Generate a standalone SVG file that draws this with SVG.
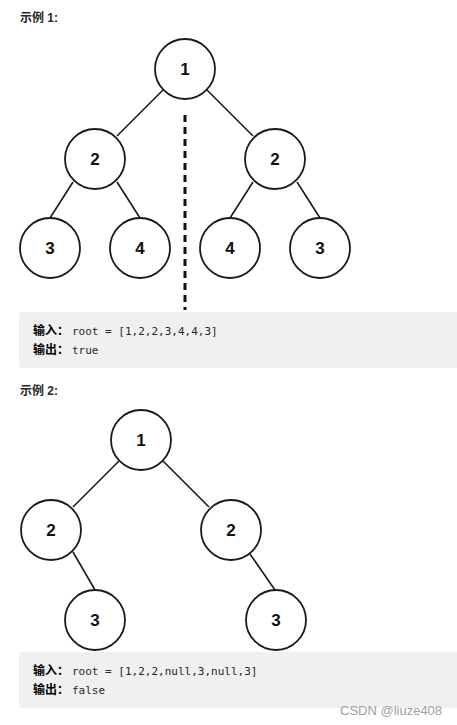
<svg xmlns="http://www.w3.org/2000/svg" width="457" height="725" viewBox="0 0 457 725">
<style>
.bg{fill:#ffffff}
.title{font-family:"Liberation Sans","Noto Sans CJK SC",sans-serif;font-size:12px;font-weight:bold;fill:#262626}
.box{fill:#f0f0f0}
.lbl{font-family:"Liberation Sans","Noto Sans CJK SC",sans-serif;font-size:12px;font-weight:bold;fill:#000}
.code{font-family:"DejaVu Sans Mono","Liberation Mono",monospace;font-size:11px;fill:#262626}
.node circle{fill:#fff;stroke:#1a1a1a;stroke-width:1.8}
.node text{font-family:"Liberation Sans",Arial,sans-serif;font-size:17px;font-weight:bold;fill:#111;text-anchor:middle}
.edge{stroke:#1a1a1a;stroke-width:1.6;fill:none}
.dash{stroke:#111;stroke-width:3;stroke-dasharray:7 5;fill:none}
.wm{font-family:"Liberation Sans",Arial,sans-serif;font-size:13px;fill:#a0a0a0}
</style>
<rect class="bg" x="0" y="0" width="457" height="725"/>

<text class="title" x="20" y="22">示例 1:</text>

<g id="connectors1">
<line class="edge" x1="163" y1="90" x2="117" y2="136"/>
<line class="edge" x1="207" y1="90" x2="253" y2="136"/>
<line class="edge" x1="73" y1="182" x2="50" y2="218"/>
<line class="edge" x1="117" y1="182" x2="140" y2="218"/>
<line class="edge" x1="253" y1="182" x2="230" y2="218"/>
<line class="edge" x1="297" y1="182" x2="320" y2="218"/>
<line class="dash" x1="185" y1="115" x2="185" y2="310"/>
</g>

<g id="e1-n1" class="node"><circle cx="185" cy="69" r="30"/><text x="185" y="75">1</text></g>
<g id="e1-n2a" class="node"><circle cx="95" cy="159" r="30"/><text x="95" y="165">2</text></g>
<g id="e1-n2b" class="node"><circle cx="275" cy="159" r="30"/><text x="275" y="165">2</text></g>
<g id="e1-n3a" class="node"><circle cx="50" cy="248" r="30"/><text x="50" y="254">3</text></g>
<g id="e1-n4a" class="node"><circle cx="140" cy="248" r="30"/><text x="140" y="254">4</text></g>
<g id="e1-n4b" class="node"><circle cx="230" cy="248" r="30"/><text x="230" y="254">4</text></g>
<g id="e1-n3b" class="node"><circle cx="320" cy="248" r="30"/><text x="320" y="254">3</text></g>

<rect class="box" x="19" y="312" width="445" height="56" rx="3"/>
<text class="lbl" x="33" y="335">输入：</text><text class="code" x="72" y="335">root = [1,2,2,3,4,4,3]</text>
<text class="lbl" x="33" y="354">输出：</text><text class="code" x="72" y="354">true</text>

<text class="title" x="20" y="395">示例 2:</text>

<g id="connectors2">
<line class="edge" x1="119" y1="461" x2="73" y2="507"/>
<line class="edge" x1="163" y1="461" x2="209" y2="507"/>
<line class="edge" x1="73" y1="552" x2="95" y2="590"/>
<line class="edge" x1="250" y1="554" x2="275" y2="590"/>
</g>

<g id="e2-n1" class="node"><circle cx="141" cy="440" r="30"/><text x="141" y="446">1</text></g>
<g id="e2-n2a" class="node"><circle cx="51" cy="530" r="30"/><text x="51" y="536">2</text></g>
<g id="e2-n2b" class="node"><circle cx="231" cy="530" r="30"/><text x="231" y="536">2</text></g>
<g id="e2-n3a" class="node"><circle cx="95" cy="620" r="30"/><text x="95" y="626">3</text></g>
<g id="e2-n3b" class="node"><circle cx="276" cy="620" r="30"/><text x="276" y="626">3</text></g>

<rect class="box" x="19" y="652" width="445" height="56" rx="3"/>
<text class="lbl" x="33" y="675">输入：</text><text class="code" x="72" y="675">root = [1,2,2,null,3,null,3]</text>
<text class="lbl" x="33" y="694">输出：</text><text class="code" x="72" y="694">false</text>

<text class="wm" x="340" y="715">CSDN @liuze408</text>
</svg>
